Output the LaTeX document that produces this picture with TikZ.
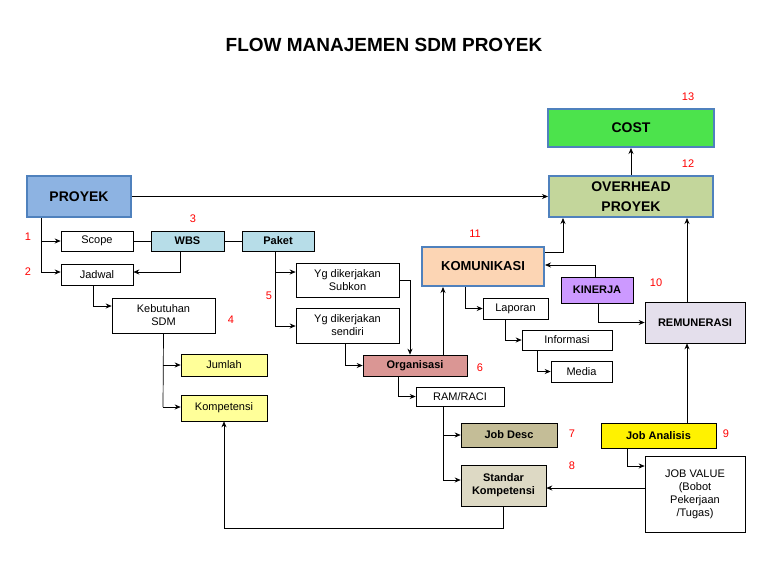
\documentclass[tikz,border=0pt]{standalone}
\usepackage{fontspec}
\setmainfont{Liberation Sans}
\usetikzlibrary{arrows.meta}
\definecolor{bblue}{HTML}{4F81BD}
\tikzset{
 bx/.style={draw=black,line width=0.6pt,inner sep=1pt,align=center,font=\fontsize{11}{13}\selectfont},
 bigb/.style={draw=bblue,line width=2pt,align=center,font=\bfseries\fontsize{14}{20}\selectfont},
 num/.style={text=red,font=\fontsize{11}{13}\selectfont},
 ar/.style={-{Stealth[length=6pt,width=5pt]},line width=0.7pt},
 ln/.style={line width=0.7pt}
}
\newcommand{\bxat}[6]{\node[bx,#6,minimum width=#3pt,minimum height=#4pt] (#5) at (#1pt,-#2pt)}
\begin{document}
\begin{tikzpicture}[x=1pt,y=-1pt]
\useasboundingbox (0,0) rectangle (768,576);
\node[font=\bfseries\fontsize{19}{22}\selectfont] (title) at (384,45) {FLOW MANAJEMEN SDM PROYEK};
\node[bigb,fill={rgb,255:red,76;green,227;blue,76},minimum width=166pt,minimum height=38pt] (cost) at (631,128) {COST};
\node[bigb,fill={rgb,255:red,195;green,214;blue,155},minimum width=164pt,minimum height=41pt] (over) at (631,196.5) {OVERHEAD\\PROYEK};
\node[bigb,fill={rgb,255:red,141;green,179;blue,226},minimum width=104pt,minimum height=41pt] (proyek) at (79,196.5) {PROYEK};
\node[bigb,fill={rgb,255:red,252;green,213;blue,180},minimum width=122pt,minimum height=39pt,font=\bfseries\fontsize{13}{16}\selectfont] (kom) at (483,266.5) {KOMUNIKASI};
\node[bx,minimum width=72pt,minimum height=20pt] (scope) at (97,241) {Scope};
\node[bx,fill={rgb,255:red,183;green,221;blue,232},font=\bfseries\fontsize{11}{13}\selectfont,minimum width=73pt,minimum height=20pt] (wbs) at (187.5,241) {WBS};
\node[bx,fill={rgb,255:red,183;green,221;blue,232},font=\bfseries\fontsize{11}{13}\selectfont,minimum width=72pt,minimum height=20pt] (paket) at (278,241) {Paket};
\node[bx,minimum width=72pt,minimum height=21pt] (jadwal) at (97,274.5) {Jadwal};
\node[bx,minimum width=103pt,minimum height=35pt] (keb) at (163.5,315.5) {Kebutuhan\\SDM};
\node[bx,fill={rgb,255:red,255;green,255;blue,153},minimum width=86pt,minimum height=22pt] (jumlah) at (224,365) {Jumlah};
\node[bx,fill={rgb,255:red,255;green,255;blue,153},minimum width=86pt,minimum height=26pt] (komp) at (224,408) {Kompetensi};
\node[bx,minimum width=103pt,minimum height=34pt] (subkon) at (347.5,280) {Yg dikerjakan\\Subkon};
\node[bx,minimum width=103pt,minimum height=35pt] (sendiri) at (347.5,325.5) {Yg dikerjakan\\sendiri};
\node[bx,fill={rgb,255:red,218;green,150;blue,148},font=\bfseries\fontsize{11}{13}\selectfont,minimum width=104pt,minimum height=21pt] (org) at (415,365.5) {Organisasi};
\node[bx,minimum width=88pt,minimum height=19pt] (ram) at (460,396.5) {RAM/RACI};
\node[bx,fill={rgb,255:red,196;green,189;blue,151},font=\bfseries\fontsize{11}{13}\selectfont,minimum width=96pt,minimum height=24pt] (jd) at (509,435) {Job Desc};
\node[bx,fill={rgb,255:red,221;green,217;blue,196},font=\bfseries\fontsize{11}{13}\selectfont,minimum width=85pt,minimum height=41pt] (std) at (503.5,485.5) {Standar\\Kompetensi};
\node[bx,minimum width=65pt,minimum height=21pt] (lap) at (515.5,308.5) {Laporan};
\node[bx,minimum width=90pt,minimum height=20pt] (inf) at (567,340) {Informasi};
\node[bx,minimum width=61pt,minimum height=21pt] (media) at (581.5,371.5) {Media};
\node[bx,fill={rgb,255:red,204;green,153;blue,255},font=\bfseries\fontsize{11}{13}\selectfont,minimum width=72pt,minimum height=26pt] (kin) at (597,290) {KINERJA};
\node[bx,fill={rgb,255:red,228;green,223;blue,236},font=\bfseries\fontsize{11}{13}\selectfont,minimum width=100pt,minimum height=41pt] (rem) at (695,322.5) {REMUNERASI};
\node[bx,fill=yellow,font=\bfseries\fontsize{11}{13}\selectfont,minimum width=115pt,minimum height=25pt] (ja) at (658.5,435.5) {Job Analisis};
\node[bx,minimum width=100pt,minimum height=76pt] (jv) at (695,494) {JOB VALUE\\(Bobot\\Pekerjaan\\/Tugas)};
\node[num] at (688,97) {13};
\node[num] at (688,164) {12};
\node[num] at (193,219) {3};
\node[num] at (28,237) {1};
\node[num] at (28,272) {2};
\node[num] at (231,320) {4};
\node[num] at (269,296) {5};
\node[num] at (480,368) {6};
\node[num] at (572,434) {7};
\node[num] at (572,466) {8};
\node[num] at (726,434) {9};
\node[num] at (656,283) {10};
\node[num] at (475,234) {11};
% connectors
\draw[ar] (proyek.east) -- (over.west);
\draw[ar] (over.north) -- (cost.south);
\draw[ln] (proyek.south -| 41,0) -- (41,272);
\draw[ar] (41,241) -- (scope.west);
\draw[ar] (41,272) -- (jadwal.west |- 0,272);
\draw[ln] (scope) -- (wbs);
\draw[ln] (wbs) -- (paket);
\draw[ar] (wbs.south -| 180,0) |- (jadwal.east |- 0,272);
\draw[ar] (jadwal.south -| 93,0) |- (keb.west |- 0,306);
\draw[ln] (keb.south) -- (163,407);
\draw[ar] (163,365) -- (jumlah.west);
\draw[ar] (163,407) -- (komp.west |- 0,407);
\draw[ln] (paket.south -| 275,0) -- (275,326);
\draw[ar] (275,272) -- (subkon.west |- 0,272);
\draw[ar] (275,326) -- (sendiri.west |- 0,326);
\draw[ar] (subkon.east) -| (410,0 |- org.north);
\draw[ar] (sendiri.south -| 345,0) |- (org.west);
\draw[ar] (org.north -| 443,0) -- (kom.south -| 443,0);
\draw[ar] (org.south -| 398,0) |- (ram.west);
\draw[ln] (ram.south -| 443,0) -- (443,480);
\draw[ar] (443,435) -- (jd.west);
\draw[ar] (443,480) -- (std.west |- 0,480);
\draw[ar] (kom.east |- 0,252) -| (over.south -| 563,0);
\draw[ar] (kom.south -| 465,0) |- (lap.west);
\draw[ar] (lap.south -| 505,0) |- (inf.west);
\draw[ar] (inf.south -| 537,0) |- (media.west);
\draw[ar] (kin.north -| 595,0) |- (kom.east |- 0,265);
\draw[ar] (kin.south -| 598,0) |- (rem.west);
\draw[ar] (rem.north -| 687,0) -- (over.south -| 687,0);
\draw[ar] (ja.north -| 687,0) -- (rem.south -| 687,0);
\draw[ar] (ja.south -| 627,0) |- (jv.west |- 0,466);
\draw[ar] (jv.west |- 0,488) -- (std.east |- 0,488);
\draw[ar] (std.south) -- (503.5,528) -| (komp.south);
\end{tikzpicture}
\end{document}
